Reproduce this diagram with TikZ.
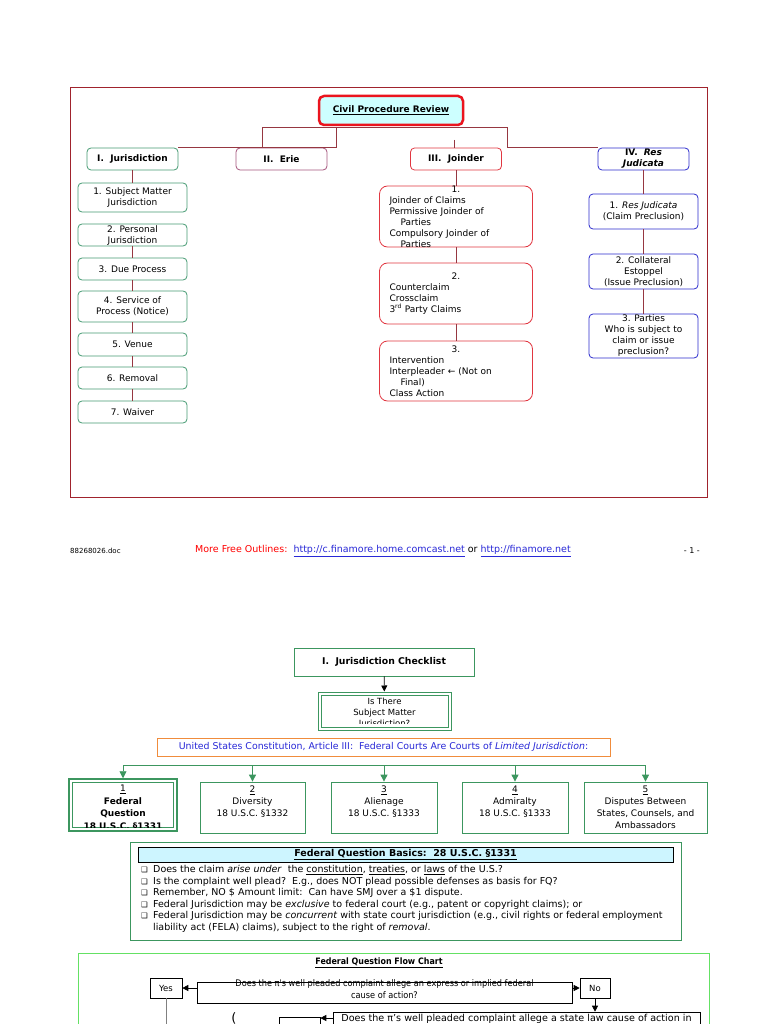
\documentclass[tikz,border=0pt]{standalone}
\usepackage{fontspec}
\setmainfont{DejaVu Sans}
\newfontfamily\condfont{DejaVu Sans Condensed}
\usetikzlibrary{arrows.meta}

\definecolor{framered}{RGB}{160,35,45}
\definecolor{linkred}{RGB}{150,55,65}
\definecolor{jurgreen}{RGB}{70,155,115}
\definecolor{eriepink}{RGB}{165,85,125}
\definecolor{joinred}{RGB}{225,55,65}
\definecolor{resblue}{RGB}{45,45,205}
\definecolor{titlered}{RGB}{235,20,30}
\definecolor{titlecyan}{RGB}{205,255,255}
\definecolor{fedgreen}{RGB}{60,150,95}
\definecolor{notegold}{RGB}{240,140,60}
\definecolor{noteblue}{RGB}{40,40,215}
\definecolor{headcyan}{RGB}{205,245,255}
\definecolor{flowgreen}{RGB}{100,225,100}

\newcommand\wdg{\makebox[12pt][l]{\fontsize{7.5}{7.5}\selectfont ❑}}

\begin{document}
\begin{tikzpicture}[x=1pt, y=-1pt,
    every node/.style={inner sep=0pt},
    every label/.style={align=center, inner sep=0pt, font=\fontsize{9}{11}\selectfont},
    size/.style 2 args={minimum width=#1pt, minimum height=#2pt},
    topbox/.style={draw=#1, rounded corners=4pt, line width=0.8pt, fill=white},
    conn/.style={draw=linkred, line width=0.9pt},
    sqbox/.style={draw=fedgreen, line width=0.8pt, fill=white},
    fqlabel/.style={font=\fontsize{9}{12}\selectfont},
    garrow/.style={draw=fedgreen, line width=0.9pt, -{Triangle[length=7pt,width=7pt]}},
    barrow/.style={draw=black, line width=0.8pt, -{Triangle[length=6pt,width=6pt]}},
    plain/.style={draw=black, line width=0.6pt, fill=white}]

    \useasboundingbox (0,0) rectangle (768,1024);
    \fill[white] (0,0) rectangle (768,1024);

    % overview page
    \draw[framered, line width=0.8pt] (70,87) rectangle (707,497);

    \node (title) [size={144}{29}, draw=titlered, line width=2.5pt, rounded corners=5pt, fill=titlecyan,
        label={center:{\bfseries\underline{Civil Procedure Review}}}] at (391,110.5) {};

    \coordinate (tl) at (262,127);
    \coordinate (tm) at (336,127);
    \coordinate (tr) at (507,127);
    \coordinate (js) at (454,140);

    \node (jur) [topbox=jurgreen, size={91}{22}, label={center:{\bfseries I.\ \ Jurisdiction}}] at (132.5,159) {};
    \node (smj) [topbox=jurgreen, size={109}{29}, label={center:{1. Subject Matter\\Jurisdiction}}] at (132.5,197.5) {};
    \node (pj) [topbox=jurgreen, size={109}{22}, label={center:{2. Personal\\Jurisdiction}}] at (132.5,235) {};
    \node (dp) [topbox=jurgreen, size={109}{22}, label={center:{3. Due Process}}] at (132.5,269) {};
    \node (sop) [topbox=jurgreen, size={109}{31}, label={center:{4. Service of\\Process (Notice)}}] at (132.5,306.5) {};
    \node (ven) [topbox=jurgreen, size={109}{23}, label={center:{5. Venue}}] at (132.5,344.5) {};
    \node (rem) [topbox=jurgreen, size={109}{22}, label={center:{6. Removal}}] at (132.5,378) {};
    \node (wai) [topbox=jurgreen, size={109}{22}, label={center:{7. Waiver}}] at (132.5,412) {};

    \node (erie) [topbox=eriepink, size={91}{22}, label={center:{\bfseries II.\ \ Erie}}] at (281.5,159) {};

    \node (joinder) [topbox=joinred, size={91}{22}, label={center:{\bfseries III.\ \ Joinder}}] at (456,159) {};
    \node (jn1) [topbox=joinred, rounded corners=8pt, size={153}{61},
        label={[align=left, text width=133pt]center:{\makebox[133pt]{1.}\\Joinder of Claims\\Permissive Joinder of\\\hspace*{11pt}Parties\\Compulsory Joinder of\\\hspace*{11pt}Parties}}] at (456,216.5) {};
    \node (jn2) [topbox=joinred, rounded corners=8pt, size={153}{61},
        label={[align=left, text width=133pt]center:{\makebox[133pt]{2.}\\Counterclaim\\Crossclaim\\3\textsuperscript{rd} Party Claims}}] at (456,293.5) {};
    \node (jn3) [topbox=joinred, rounded corners=8pt, size={153}{60},
        label={[align=left, text width=133pt]center:{\makebox[133pt]{3.}\\Intervention\\Interpleader ← (Not on\\\hspace*{11pt}Final)\\Class Action}}] at (456,371) {};

    \node (res) [topbox=resblue, size={91}{22}, label={center:{\bfseries IV.\ \ \textit{Res}\\\bfseries\textit{Judicata}}}] at (643.5,159) {};
    \node (rj1) [topbox=resblue, size={109}{35}, label={center:{1. \textit{Res Judicata}\\(Claim Preclusion)}}] at (643.5,211.5) {};
    \node (rj2) [topbox=resblue, size={109}{35}, label={center:{2. Collateral\\Estoppel\\(Issue Preclusion)}}] at (643.5,271.5) {};
    \node (rj3) [topbox=resblue, size={109}{44}, label={center:{3. Parties\\Who is subject to\\claim or issue\\preclusion?}}] at (643.5,336) {};

    \draw[conn] (erie.north -| tl) -- (tl) -- (tr) -- (tr |- res.north) -- (res.north west);
    \draw[conn] (tm) -- (tm |- jur.north) -- (jur.north east);
    \draw[conn] (js) -- (js |- joinder.north);
    \draw[conn] (jur) -- (smj) (pj) -- (dp) (dp) -- (sop) (sop) -- (ven) (ven) -- (rem) (rem) -- (wai);
    \draw[conn] (joinder) -- (jn1) (jn1) -- (jn2) (jn2) -- (jn3);
    \draw[conn] (res) -- (rj1) (rj1) -- (rj2) (rj2) -- (rj3);

    % footer
    \node (docname) [anchor=west, font=\fontsize{7}{8}\selectfont] at (70,551) {88268026.doc};
    \node (outlines) [anchor=west, font=\fontsize{9.5}{10}\selectfont] at (195,551)
        {\textcolor{red}{More Free Outlines:}\ \ \textcolor{noteblue}{\underline{http://c.finamore.home.comcast.net}} or \textcolor{noteblue}{\underline{http://finamore.net}}};
    \node (pagenum) [anchor=east, font=\fontsize{8}{8}\selectfont] at (700,551) {- 1 -};

    % checklist page
    \node (chk) [sqbox, size={180}{28}, label={center:{\fontsize{9.3}{11}\selectfont\bfseries I.\ \ Jurisdiction Checklist}}] at (384,662) {};
    \node (smq) [draw=fedgreen, line width=1pt, fill=white, size={133}{38}] at (384.5,711) {};
    \node (smqin) [draw=fedgreen, line width=0.6pt, size={127}{32}] at (384.5,711) {};
    \begin{scope}
        \clip (320,694) rectangle (449,723);
        \node (smqtext) [align=center, font=\fontsize{8.5}{11}\selectfont] at (384.5,713.5) {Is There\\Subject Matter\\Jurisdiction?};
    \end{scope}
    \draw[barrow] (chk) -- (smq);

    \node (limited) [draw=notegold, line width=0.8pt, size={453}{18}, text=noteblue, font=\fontsize{9.4}{10}\selectfont] at (383.5,747)
        {United States Constitution, Article III:\ \ Federal Courts Are Courts of \textit{Limited Jurisdiction}:};

    \node (fq1) [draw=fedgreen, line width=1.5pt, fill=white, size={108}{52}] at (123,805) {};
    \node (fq1in) [draw=fedgreen, line width=0.6pt, size={101}{45}] at (123,805) {};
    \begin{scope}
        \clip (74,782) rectangle (172,827.5);
        \node (fq1text) [align=center, font=\fontsize{9}{12.5}\selectfont] at (123,807.5)
            {\underline{1}\\\textbf{Federal}\\\textbf{Question}\\\textbf{18 U.S.C. §1331}};
    \end{scope}
    \node (fq2) [sqbox, size={105}{51}, label={[fqlabel, yshift=5.5pt]center:{\underline{2}\\Diversity\\18 U.S.C. §1332}}] at (252.5,807.5) {};
    \node (fq3) [sqbox, size={106}{51}, label={[fqlabel, yshift=5.5pt]center:{\underline{3}\\Alienage\\18 U.S.C. §1333}}] at (384,807.5) {};
    \node (fq4) [sqbox, size={106}{51}, label={[fqlabel, yshift=5.5pt]center:{\underline{4}\\Admiralty\\18 U.S.C. §1333}}] at (515,807.5) {};
    \node (fq5) [sqbox, size={123}{51}, label={[fqlabel]center:{\underline{5}\\Disputes Between\\States, Counsels, and\\Ambassadors}}] at (645.5,807.5) {};

    \coordinate (dline) at (0,765);
    \draw[fedgreen, line width=0.9pt] (fq1.north |- dline) -- (fq5.north |- dline);
    \foreach \b in {fq1,fq2,fq3,fq4,fq5}
        \draw[garrow] (\b.north |- dline) -- (\b.north);

    \node (basics) [sqbox, size={551}{98}] at (405.5,891) {};
    \node (basicshead) [draw=black, line width=0.8pt, fill=headcyan, size={535}{15}, font=\fontsize{9.5}{10}\selectfont\bfseries] at (405.5,854.5)
        {\underline{Federal Question Basics:\ \ 28 U.S.C. §1331}};
    \node (basicslist) [anchor=north west, align=left, font=\fontsize{9.5}{11.6}\selectfont] at (141,865)
        {\wdg Does the claim \textit{arise under}\ \ the \underline{constitution}, \underline{treaties}, or \underline{laws} of the U.S.?\\
         \wdg Is the complaint well plead?\ \ E.g., does NOT plead possible defenses as basis for FQ?\\
         \wdg Remember, NO \$ Amount limit:\ \ Can have SMJ over a \$1 dispute.\\
         \wdg Federal Jurisdiction may be \textit{exclusive} to federal court (e.g., patent or copyright claims); or\\
         \wdg Federal Jurisdiction may be \textit{concurrent} with state court jurisdiction (e.g., civil rights or federal employment\\
         \hspace*{12pt}liability act (FELA) claims), subject to the right of \textit{removal}.};

    % flow chart
    \draw[flowgreen, line width=0.9pt] (78,953) rectangle (709,1040);
    \node (flowtitle) [font=\condfont\fontsize{8.8}{10}\selectfont\bfseries] at (379,963) {\underline{Federal Question Flow Chart}};
    \node (yes) [plain, size={32}{20}, font=\fontsize{8.5}{10}\selectfont] at (166,988) {Yes};
    \node (fedq) [plain, size={375}{21}] at (384.5,992.5) {};
    \node (fedqtext) [align=center, font=\condfont\fontsize{9.1}{11.5}\selectfont] at (384.5,989)
        {Does the π's well pleaded complaint allege an express or implied federal\\cause of action?};
    \node (no) [plain, size={30}{20}, font=\fontsize{8.5}{10}\selectfont] at (595,988) {No};
    \node (statelaw) [plain, size={367}{24}, label={[font=\fontsize{9.6}{10}\selectfont, yshift=5pt]center:{Does the π's well pleaded complaint allege a state law cause of action in}}] at (516.5,1024) {};
    \node (smallbox) [plain, size={41}{14}] at (299.5,1024) {};
    \node (paren) [font=\fontsize{13}{13}\selectfont] at (234,1018) {(};
    \coordinate (yesdown) at (166,1030);

    \draw[barrow] (fedq.west |- yes) -- (yes);
    \draw[barrow] (fedq.east |- no) -- (no);
    \draw[barrow] (no) -- (no |- statelaw.north);
    \draw[barrow] ([yshift=6pt]statelaw.west) -- ([yshift=6pt]statelaw.west -| smallbox.east);
    \draw[gray, line width=0.8pt] (yes) -- (yesdown);
\end{tikzpicture}
\end{document}
